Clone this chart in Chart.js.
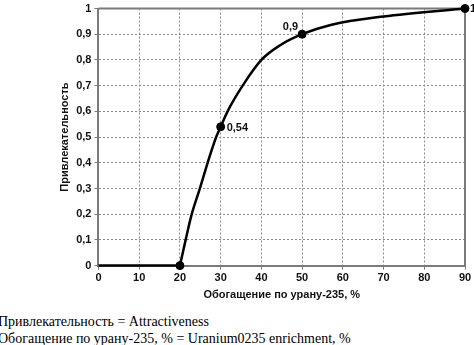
<!DOCTYPE html>
<html>
<head>
<meta charset="utf-8">
<script src="https://cdn.jsdelivr.net/npm/chart.js@4"></script>
<style>
body { margin: 0; background: #fff; }
#contenedor { position: relative; width: 474px; height: 302px; }
.nota { font-family: "Liberation Serif", serif; font-size: 14px; line-height: 17px; color: #000; margin-left: -2px; white-space: nowrap; }
</style>
</head>
<body>
<div id="contenedor"><canvas id="grafico"></canvas></div>
<div class="nota" style="margin-top:11px">Привлекательность = Attractiveness</div>
<div class="nota">Обогащение по урану-235, % = Uranium0235 enrichment, %</div>
<script>
// tramo plano
let planoX = [0, 20];
let planoY = [0, 0];

// curva
let curvaX = [20, 21.4, 22.9, 24.9, 26.8, 28.9, 30, 31.7, 35.4, 40, 44.6, 50, 57, 70, 90];
let curvaY = [0, 0.1, 0.2, 0.3, 0.4, 0.5, 0.54, 0.6, 0.7, 0.8, 0.857, 0.9, 0.936, 0.969, 1];

// puntos marcados
let puntosX = [20, 30, 50, 90];
let puntosY = [0, 0.54, 0.9, 1];
let etiquetas = ['', '0,54', '0,9', '1'];

let ticksX = [0, 10, 20, 30, 40, 50, 60, 70, 80, 90];
let ticksY = [0, 0.1, 0.2, 0.3, 0.4, 0.5, 0.6, 0.7, 0.8, 0.9, 1];

let tituloX = 'Обогащение по урану-235, %';
let tituloY = 'Привлекательность';

let fuente = { family: '"Liberation Sans", Arial, sans-serif', size: 11, weight: 'bold' };
let fuenteTicks = { family: '"Liberation Sans", Arial, sans-serif', size: 11, weight: 'bold', lineHeight: 1 };

function aPuntos(xs, ys) {
    let res = [];
    for (let i = 0; i < xs.length; i++) {
        res.push({ x: xs[i], y: ys[i] });
    }
    return res;
}

function conComa(v) {
    return String(Math.round(v * 10) / 10).replace('.', ',');
}

// borde superior y derecho del area
let pluginMarco = {
    id: 'marco',
    beforeDatasetsDraw: function(chart) {
        let a = chart.chartArea;
        let ctx = chart.ctx;
        ctx.save();
        ctx.strokeStyle = '#7a7a7a';
        ctx.lineWidth = 2;
        ctx.beginPath();
        ctx.moveTo(a.left, a.top);
        ctx.lineTo(a.right, a.top);
        ctx.lineTo(a.right, a.bottom);
        ctx.stroke();
        ctx.restore();
    }
};

// etiquetas de los puntos
let pluginEtiquetas = {
    id: 'etiquetas',
    afterDatasetsDraw: function(chart) {
        let meta = chart.getDatasetMeta(2);
        let ctx = chart.ctx;
        let desplazamientos = [[0, 0, 'left'], [6, 1, 'left'], [-4, -7, 'right'], [5, 0, 'left']];
        ctx.save();
        ctx.font = 'bold 11px "Liberation Sans", Arial, sans-serif';
        ctx.fillStyle = '#111';
        ctx.textBaseline = 'middle';
        for (let i = 0; i < meta.data.length; i++) {
            if (!etiquetas[i]) {
                continue;
            }
            let p = meta.data[i];
            ctx.textAlign = desplazamientos[i][2];
            ctx.fillText(etiquetas[i], p.x + desplazamientos[i][0], p.y + desplazamientos[i][1]);
        }
        ctx.restore();
    }
};

new Chart(document.getElementById('grafico'), {
    type: 'scatter',
    data: {
        datasets: [{
            data: aPuntos(planoX, planoY),
            showLine: true,
            borderColor: '#000',
            borderWidth: 2.5,
            pointRadius: 0,
            clip: false
        }, {
            data: aPuntos(curvaX, curvaY),
            showLine: true,
            borderColor: '#000',
            borderWidth: 2.5,
            pointRadius: 0,
            cubicInterpolationMode: 'monotone',
            clip: false
        }, {
            data: aPuntos(puntosX, puntosY),
            showLine: false,
            pointRadius: 4,
            pointBackgroundColor: '#000',
            pointBorderColor: '#000',
            clip: false
        }]
    },
    options: {
        responsive: true,
        maintainAspectRatio: false,
        animation: false,
        layout: { padding: { left: 58, right: 9, top: -2, bottom: 0 } },
        plugins: {
            legend: { display: false },
            tooltip: { enabled: false }
        },
        scales: {
            x: {
                type: 'linear',
                min: 0,
                max: 90,
                afterBuildTicks: function(eje) {
                    eje.ticks = ticksX.map(function(v) { return { value: v }; });
                },
                ticks: { color: '#111', font: fuente, padding: 2, maxRotation: 0 },
                grid: { color: '#8c8c8c', lineWidth: 1, tickLength: 4, tickColor: '#7a7a7a' },
                border: { display: true, color: '#7a7a7a', width: 2, dash: [2, 2] },
                title: { display: true, text: tituloX, color: '#111', font: fuente, padding: { top: 2, bottom: 0 } }
            },
            y: {
                type: 'linear',
                min: 0,
                max: 1,
                afterBuildTicks: function(eje) {
                    eje.ticks = ticksY.map(function(v) { return { value: v }; });
                },
                ticks: {
                    color: '#111',
                    font: fuenteTicks,
                    padding: 3,
                    callback: function(v) { return conComa(v); }
                },
                grid: { color: '#8c8c8c', lineWidth: 1, tickLength: 4, tickColor: '#7a7a7a' },
                border: { display: true, color: '#7a7a7a', width: 2, dash: [2, 2] },
                title: { display: true, text: tituloY, color: '#111', font: fuente, padding: { top: 0, bottom: 2 } }
            }
        }
    },
    plugins: [pluginMarco, pluginEtiquetas]
});
</script>
</body>
</html>
